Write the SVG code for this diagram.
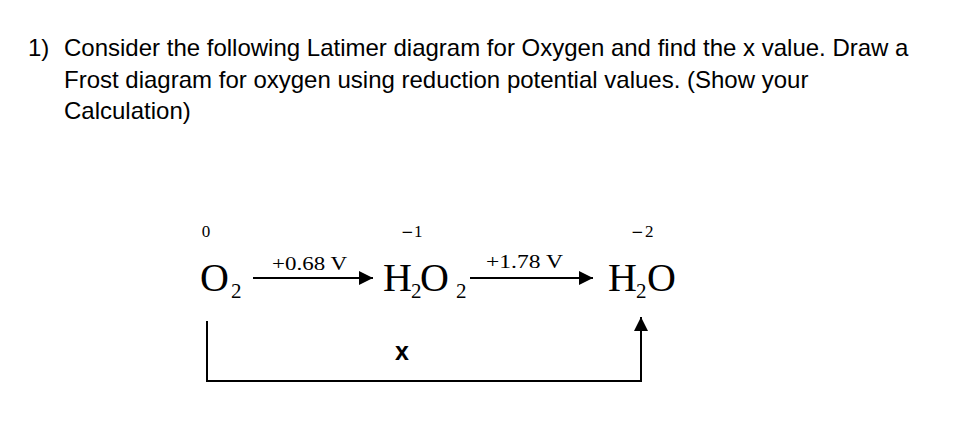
<svg xmlns="http://www.w3.org/2000/svg" width="977" height="448" viewBox="0 0 977 448">
<defs>
<style>
.q{font-family:"Liberation Sans",Arial,sans-serif;font-size:24px;fill:#000}
.ch{font-family:"Liberation Serif","Times New Roman",serif;font-size:40px;fill:#000}
.sub{font-family:"Liberation Serif","Times New Roman",serif;font-size:21px;fill:#000}
.ox{font-family:"Liberation Serif","Times New Roman",serif;font-size:17px;fill:#000}
.mn{font-family:"DejaVu Serif",serif;font-size:15px}
.pot{font-family:"Liberation Serif","Times New Roman",serif;font-size:19px;fill:#000}
.xl{font-family:"Liberation Sans",Arial,sans-serif;font-size:25px;font-weight:bold;fill:#000}
.ln{stroke:#000;stroke-width:2;fill:none}
</style>
<marker id="ah" viewBox="0 0 10 10" refX="10" refY="5" markerWidth="14" markerHeight="15" markerUnits="userSpaceOnUse" orient="auto">
<path d="M0,0 L10,5 L0,10 Z" fill="#000"/>
</marker>
</defs>
<rect width="977" height="448" fill="#fff"/>
<g id="question">
<text class="q" x="28" y="56">1)</text>
<text class="q" x="64" y="56">Consider the following Latimer diagram for Oxygen and find the x value. Draw a</text>
<text class="q" x="64" y="88">Frost diagram for oxygen using reduction potential values. (Show your</text>
<text class="q" x="64" y="119">Calculation)</text>
</g>
<g id="node-O2">
<text class="ox" x="206" y="237" text-anchor="middle">0</text>
<text class="ch" x="200" y="291">O</text>
<text class="sub" x="231" y="298">2</text>
</g>
<g id="node-H2O2">
<text class="ox" x="401" y="237"><tspan class="mn">−</tspan><tspan x="414">1</tspan></text>
<text class="ch" x="383" y="291">H</text>
<text class="sub" x="411" y="298">2</text>
<text class="ch" x="420" y="291">O</text>
<text class="sub" x="456" y="298">2</text>
</g>
<g id="node-H2O">
<text class="ox" x="631" y="237"><tspan class="mn">−</tspan><tspan x="645">2</tspan></text>
<text class="ch" x="608" y="291">H</text>
<text class="sub" x="636" y="298">2</text>
<text class="ch" x="647" y="291">O</text>
</g>
<g id="connectors">
<line class="ln" x1="253" y1="278" x2="373" y2="278" marker-end="url(#ah)"/>
<line class="ln" x1="470" y1="278" x2="593" y2="278" marker-end="url(#ah)"/>
<polyline class="ln" points="207,321 207,381 641,381 641,317" marker-end="url(#ah)"/>
<text class="pot" x="272" y="270" textLength="75" lengthAdjust="spacingAndGlyphs">+0.68 V</text>
<text class="pot" x="486" y="268" textLength="77" lengthAdjust="spacingAndGlyphs">+1.78 V</text>
<text class="xl" x="402" y="360" text-anchor="middle">x</text>
</g>
</svg>
